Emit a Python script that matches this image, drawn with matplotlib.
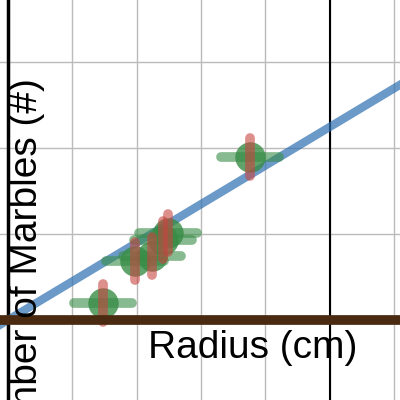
import numpy as np
import matplotlib
matplotlib.use('Agg')
from matplotlib import pyplot as plt

plt.rcParams['font.family'] = ['Liberation Sans', 'DejaVu Sans']

radius = [1.475, 1.97, 2.24, 2.41, 2.48, 3.76]
marbles = [0.20, 0.69, 0.74, 0.93, 1.01, 1.895]
x_err = [0.45, 0.45, 0.45, 0.45, 0.45, 0.45]
y_err = [0.22, 0.22, 0.22, 0.22, 0.22, 0.22]
slope = 0.449

fig = plt.figure(figsize=(4, 4), dpi=100)
ax = fig.add_axes([0, 0, 1, 1])
ax.set_xlim(-0.124, 6.09)
ax.set_ylim(-0.93, 3.72)

for gx in range(0, 7):
    ax.axvline(gx, color='#bbbbbb', lw=1, zorder=0)
for gy in range(-1, 5):
    ax.axhline(gy, color='#bbbbbb', lw=1, zorder=0)
ax.axvline(5, color='black', lw=1.5, zorder=1)
ax.axvline(0, color='black', lw=2.5, zorder=1)

xs = np.array([-0.2, 6.2])
ax.plot(xs, slope * xs, color='#2d70b3', alpha=0.7, lw=6, zorder=2)

for xv, yv, xe, ye in zip(radius, marbles, x_err, y_err):
    ax.plot([xv - xe, xv + xe], [yv, yv], color='#388c46', alpha=0.6, lw=7,
            solid_capstyle='round', zorder=3)
    ax.plot([xv, xv], [yv - ye, yv + ye], color='#c74440', alpha=0.6, lw=7,
            solid_capstyle='round', zorder=4)
ax.scatter(radius, marbles, s=480, color='#388c46', alpha=0.8, lw=0, zorder=3)

ax.axhline(0, color='#4a2a10', lw=7, zorder=5)

ax.text(3.8, -0.33, 'Radius (cm)', fontsize=28, ha='center', va='center', zorder=6)
ax.text(0.29, 0.55, 'Number of Marbles (#)', fontsize=28, rotation=90,
        ha='center', va='center', zorder=6)
ax.set_axis_off()
fig.savefig('out.png')
